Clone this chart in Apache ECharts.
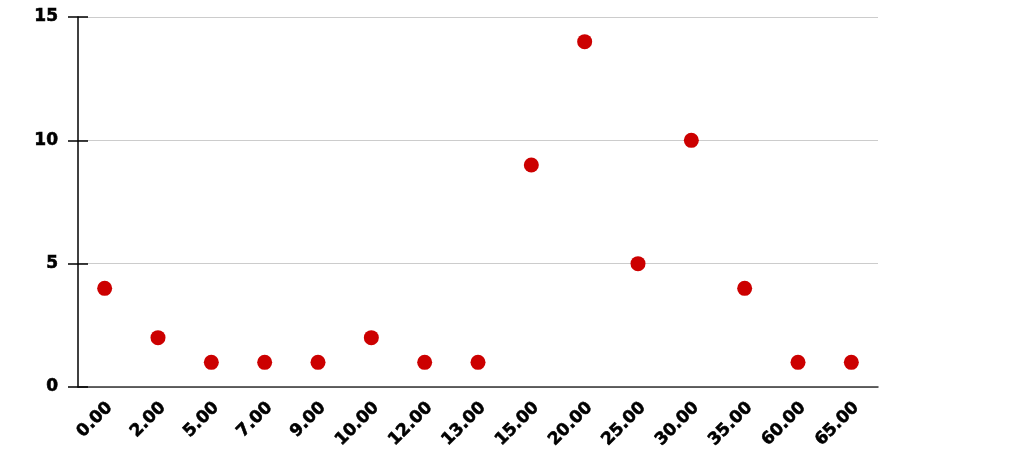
<!DOCTYPE html>
<html>
<head>
<meta charset="utf-8">
<script src="https://cdn.jsdelivr.net/npm/echarts@6/dist/echarts.min.js"></script>
<style>html,body{margin:0;padding:0;background:#fff;}#c{width:1013px;height:466px;}</style>
</head>
<body>
<div id="c"></div>
<script>
const categories = ['0.00','2.00','5.00','7.00','9.00','10.00','12.00','13.00','15.00','20.00','25.00','30.00','35.00','60.00','65.00'];
const values = [4,2,1,1,1,2,1,1,9,14,5,10,4,1,1];
const yTicks = [0,5,10,15];

const font = {fontFamily: '"DejaVu Sans", Verdana, sans-serif', fontWeight: 'bold', fontSize: 17, color: '#000', textBorderColor: '#000', textBorderWidth: 0.6};
const chart = echarts.init(document.getElementById('c'));
chart.setOption({
  animation: false,
  grid: {left: 78, right: 135, top: 17, bottom: 79, containLabel: false},
  xAxis: {
    type: 'category',
    data: categories,
    boundaryGap: true,
    axisLine: {lineStyle: {color: '#333', width: 1.5}},
    axisTick: {show: false},
    axisLabel: Object.assign({rotate: 45, interval: 0, margin: 13, verticalAlign: 'top', lineHeight: 14}, font),
    splitLine: {show: false}
  },
  yAxis: [{
    type: 'value',
    min: yTicks[0], max: yTicks[yTicks.length-1], interval: 5,
    axisLine: {show: true, lineStyle: {color: '#000', width: 1.5}},
    axisTick: {show: true, length: 10, lineStyle: {color: '#000', width: 1.5}},
    axisLabel: Object.assign({margin: 20}, font),
    splitLine: {show: true, lineStyle: {color: '#cccccc', width: 1}}
  }, {
    type: 'value', position: 'left',
    min: yTicks[0], max: yTicks[yTicks.length-1], interval: 5,
    axisLine: {show: false},
    axisTick: {show: true, inside: true, length: 10, lineStyle: {color: '#000', width: 1.5}},
    axisLabel: {show: false},
    splitLine: {show: false}
  }],
  series: [{
    type: 'scatter',
    data: values,
    symbolSize: 15,
    itemStyle: {color: '#cc0000', opacity: 1}
  }]
});
</script>
</body>
</html>
